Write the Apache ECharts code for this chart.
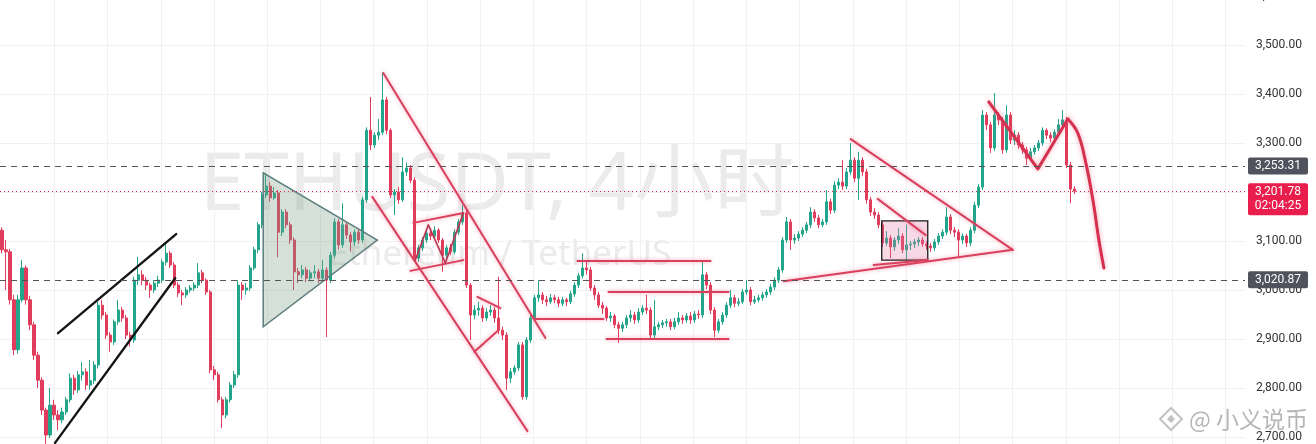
<!DOCTYPE html>
<html><head><meta charset="utf-8">
<script src="https://cdn.jsdelivr.net/npm/echarts@6/dist/echarts.min.js"></script>
<style>html,body{margin:0;padding:0;background:#fff}#c{width:1316px;height:444px}</style>
</head><body><div id="c"></div>
<script>
// ---- data: 4h candles [open, close, low, high] ----
const ohlc = [
[3122,3082,3075,3128],[3082,3078,3000,3102],[3078,2980,2970,3084],[2980,2878,2867,2990],[2878,2980,2870,2990],
[2980,3045,2975,3061],[3045,2980,2970,3050],[2980,2929,2918,2988],[2929,2867,2857,2935],[2867,2816,2800,2874],
[2816,2755,2745,2822],[2755,2704,2686,2760],[2704,2765,2698,2800],[2765,2745,2735,2776],[2745,2735,2714,2755],
[2735,2751,2728,2760],[2751,2776,2745,2782],[2776,2820,2770,2830],[2820,2796,2786,2827],[2796,2827,2790,2835],
[2827,2833,2815,2853],[2833,2806,2796,2840],[2806,2815,2796,2857],[2815,2847,2808,2855],[2847,2969,2840,2976],
[2969,2949,2940,2980],[2949,2908,2900,2955],[2908,2894,2874,2914],[2894,2935,2888,2940],[2935,2959,2929,2980],
[2959,2943,2935,2965],[2943,2908,2900,2949],[2908,2898,2884,2915],[2898,3020,2892,3027],[3020,3031,3010,3067],
[3031,3020,3010,3040],[3020,3010,3000,3027],[3010,3000,2984,3014],[3000,3014,2994,3020],[3014,3020,3006,3029],
[3020,3057,3014,3063],[3057,3075,3050,3096],[3075,3051,3045,3080],[3051,3010,3004,3057],[3010,2994,2986,3016],
[2994,2990,2969,3000],[2990,3000,2984,3006],[3000,3004,2994,3010],[3004,3010,2998,3016],[3010,3035,3004,3055],
[3035,3020,3014,3041],[3020,2996,2990,3024],[2996,2837,2830,3000],[2837,2827,2816,2845],[2827,2776,2770,2833],
[2776,2745,2718,2782],[2745,2776,2738,2782],[2776,2806,2770,2812],[2806,2827,2800,2835],[2827,3010,2820,3020],
[3010,3000,2980,3016],[3000,3004,2990,3014],[3004,3045,2998,3051],[3045,3082,3040,3088],[3082,3133,3075,3139],
[3133,3194,3126,3200],[3194,3212,3188,3239],[3212,3188,3180,3220],[3188,3198,3184,3210],[3198,3118,3067,3204],
[3118,3159,3110,3165],[3159,3133,3126,3165],[3133,3102,3094,3139],[3102,3037,3000,3108],[3037,3031,3014,3045],
[3031,3041,3024,3051],[3041,3024,3016,3047],[3024,3035,3018,3041],[3035,3037,3024,3051],[3037,3024,3014,3043],
[3024,3041,3018,3061],[3041,3020,2904,3047],[3020,3071,3014,3078],[3071,3139,3065,3147],[3139,3092,3082,3145],
[3092,3133,3086,3177],[3133,3112,3104,3139],[3112,3098,3078,3118],[3098,3118,3090,3124],[3118,3102,3094,3124],
[3102,3184,3096,3190],[3184,3326,3178,3332],[3326,3296,3286,3394],[3296,3316,3290,3322],[3316,3322,3306,3349],
[3322,3388,3316,3443],[3388,3326,3318,3394],[3326,3194,3188,3330],[3194,3200,3153,3206],[3200,3184,3176,3210],
[3184,3241,3180,3271],[3241,3249,3233,3260],[3249,3224,3218,3255],[3224,3065,3059,3230],[3065,3086,3057,3092],
[3086,3102,3080,3108],[3102,3116,3096,3124],[3116,3110,3102,3126],[3110,3122,3104,3130],[3122,3102,3096,3126],
[3102,3071,3037,3106],[3071,3086,3065,3092],[3086,3078,3071,3094],[3078,3118,3073,3124],[3118,3139,3112,3145],
[3139,3157,3133,3173],[3157,3010,3004,3163],[3010,2949,2898,3014],[2949,2959,2940,2969],[2959,2963,2947,2976],
[2963,2943,2935,2969],[2943,2955,2937,2963],[2955,2959,2947,2969],[2959,2943,2933,2965],[2943,2918,2910,3027],
[2918,2908,2898,2925],[2908,2820,2796,2914],[2820,2833,2810,2841],[2833,2841,2827,2847],[2841,2888,2835,2894],
[2888,2782,2776,2894],[2782,2898,2776,2904],[2898,2943,2892,2949],[2943,2984,2937,2990],[2984,2990,2976,3020],
[2990,2980,2971,2996],[2980,2976,2967,2988],[2976,2984,2971,2992],[2984,2980,2973,2990],[2980,2973,2965,2986],
[2973,2980,2967,2986],[2980,2976,2967,2984],[2976,2992,2971,2998],[2992,3010,2986,3016],[3010,3029,3004,3035],
[3029,3045,3024,3075],[3045,3041,3031,3061],[3041,3004,2998,3047],[3004,2990,2980,3010],[2990,2969,2963,2996],
[2969,2963,2951,2976],[2963,2943,2937,2967],[2943,2947,2935,2955],[2947,2929,2922,2951],[2929,2922,2892,2935],
[2922,2929,2914,2935],[2929,2943,2922,2949],[2943,2949,2935,2959],[2949,2939,2931,2955],[2939,2955,2933,2963],
[2955,2963,2949,2969],[2963,2959,2951,2990],[2959,2908,2900,2965],[2908,2925,2898,2980],[2925,2929,2918,2935],
[2929,2933,2922,2939],[2933,2935,2925,2941],[2935,2925,2918,2941],[2925,2935,2920,2943],[2935,2943,2929,2955],
[2943,2939,2931,2949],[2939,2947,2933,2953],[2947,2939,2931,2955],[2939,2951,2933,2957],[2951,2949,2941,2959],
[2949,3031,2943,3061],[3031,3010,3002,3037],[3010,2959,2951,3016],[2959,2918,2904,2965],[2918,2935,2912,2941],
[2935,2949,2929,2955],[2949,2969,2943,2975],[2969,2984,2963,3000],[2984,2973,2965,2990],[2973,2976,2967,2984],
[2976,2996,2971,3002],[2996,3000,2990,3020],[3000,2976,2969,3006],[2976,2980,2971,2988],[2980,2984,2975,2990],
[2984,2990,2978,2996],[2990,2996,2984,3002],[2996,3006,2990,3012],[3006,3020,3000,3026],[3020,3041,3014,3047],
[3041,3102,3035,3108],[3102,3139,3096,3149],[3139,3102,3082,3145],[3102,3106,3094,3114],[3106,3114,3100,3120],
[3114,3122,3108,3128],[3122,3133,3116,3139],[3133,3159,3126,3169],[3159,3147,3139,3165],[3147,3133,3126,3153],
[3133,3139,3128,3145],[3139,3180,3133,3204],[3180,3163,3155,3186],[3163,3214,3157,3222],[3214,3220,3206,3228],
[3220,3212,3204,3265],[3212,3241,3206,3249],[3241,3265,3235,3300],[3265,3228,3220,3271],[3228,3265,3184,3282],
[3265,3241,3233,3271],[3241,3184,3176,3247],[3184,3159,3151,3190],[3159,3153,3145,3167],[3153,3133,3126,3159],
[3133,3096,3088,3139],[3096,3106,3090,3120],[3106,3088,3065,3112],[3088,3102,3080,3108],[3102,3110,3094,3126],
[3110,3082,3075,3116],[3082,3092,3061,3133],[3092,3094,3082,3100],[3094,3098,3086,3104],[3098,3102,3090,3108],
[3102,3094,3088,3108],[3094,3090,3082,3100],[3090,3086,3078,3096],[3086,3098,3080,3104],[3098,3110,3092,3116],
[3110,3118,3104,3124],[3118,3149,3112,3169],[3149,3122,3114,3155],[3122,3118,3108,3128],[3118,3102,3067,3124],
[3102,3110,3094,3116],[3110,3096,3088,3114],[3096,3122,3090,3128],[3122,3173,3116,3180],[3173,3210,3167,3216],
[3210,3357,3204,3367],[3357,3337,3326,3363],[3337,3290,3280,3343],[3290,3357,3284,3402],[3357,3347,3337,3363],
[3347,3286,3278,3353],[3286,3357,3280,3377],[3357,3306,3298,3363],[3306,3316,3296,3326],[3316,3296,3288,3322],
[3296,3286,3278,3302],[3286,3269,3255,3292],[3269,3282,3263,3290],[3282,3290,3276,3296],[3290,3300,3284,3306],
[3300,3326,3294,3332],[3326,3316,3308,3330],[3316,3310,3302,3322],[3310,3322,3304,3328],[3322,3337,3316,3349],
[3337,3347,3330,3367],[3347,3255,3249,3353],[3255,3206,3177,3261],[3206,3201.78,3196,3212]
];
const categoryCount = 311;
const categories = Array.from({length: categoryCount}, (_, i) => 'K' + i);
const yTicks = {min: 2600, max: 3700, step: 100};
const priceLines = [
  {value: 3253.31, kind: 'level'},
  {value: 3020.87, kind: 'level'},
  {value: 3201.78, kind: 'last', countdown: '02:04:25'}
];
const timeGrid = [13, 26.3, 39.6, 52.9, 66.2, 79.5, 92.8, 106.1, 119.4, 132.7, 146, 159.3, 172.6, 185.9, 199.2, 212.5, 225.8, 239.1, 252.4, 265.7, 279, 292.3, 305.6];
// drawings in data space: [candle index, price]
const drawings = [
  {kind:'line', style:'black', pts:[[14,2912],[43.5,3114]]},
  {kind:'line', style:'black', pts:[[13.25,2688],[43.25,3024]]},
  {kind:'polygon', style:'tri', pts:[[65.25,3239],[65.25,2925],[93.75,3102]]},
  {kind:'line', style:'red', pts:[[95.25,3443],[135.75,2902]]},
  {kind:'line', style:'red', pts:[[92.5,3190],[131.25,2712]]},
  {kind:'line', style:'red', pts:[[102.75,3137],[115.25,3157]]},
  {kind:'line', style:'red', pts:[[102,3039],[115.25,3061]]},
  {kind:'line', style:'redThin', pts:[[103.25,3061],[106.5,3133],[110.75,3055],[115.25,3157]]},
  {kind:'line', style:'red', pts:[[118.75,2986],[124.5,2963]]},
  {kind:'line', style:'red', pts:[[118,2874],[124,2918]]},
  {kind:'line', style:'red', pts:[[133.25,2941],[150.25,2941]]},
  {kind:'line', style:'red', pts:[[143.75,3059],[177,3059]]},
  {kind:'line', style:'red', pts:[[151.5,2996],[181.5,2996]]},
  {kind:'line', style:'red', pts:[[151,2900],[181.5,2900]]},
  {kind:'line', style:'red', pts:[[212,3308],[252.5,3082]]},
  {kind:'line', style:'red', pts:[[195.25,3018],[252.5,3082]]},
  {kind:'rect', style:'box', pts:[[219.75,3141],[231.25,3061]]},
  {kind:'line', style:'red', pts:[[218.75,3186],[230.75,3112]]},
  {kind:'line', style:'red', pts:[[217.75,3051],[231.25,3061]]},
  {kind:'line', style:'redThick', pts:[[246.5,3384],[258.75,3247],[266.25,3349]]},
  {kind:'line', style:'redThick', smooth:0.4, pts:[[266.25,3349],[268.75,3320],[270.75,3259],[272.5,3184],[274,3102],[275.25,3045]]}
];

const drawStyles = {
  black: {stroke:'#151515', lineWidth:2.4},
  tri: {stroke:'#5e7d7f', lineWidth:1.5, fill:'rgba(120,160,135,0.32)'},
  red: {stroke:'#d9405e', lineWidth:2, shadowBlur:4, shadowColor:'rgba(235,90,120,0.55)'},
  redThin: {stroke:'#b8324f', lineWidth:1.5, shadowBlur:3, shadowColor:'rgba(235,90,120,0.45)'},
  redThick: {stroke:'#d6304f', lineWidth:3, shadowBlur:5, shadowColor:'rgba(235,90,120,0.55)'},
  box: {stroke:'#1a1a1a', lineWidth:1.3, fill:'rgba(225,120,165,0.28)'}
};
const UP = '#23a58c', DOWN = '#e03c5b';
const fmt = v => v.toLocaleString('en-US', {minimumFractionDigits: 2, maximumFractionDigits: 2});

function renderDrawing(params, api) {
  const d = drawings[params.dataIndex];
  const pts = d.pts.map(p => api.coord(p));
  const s = drawStyles[d.style];
  if (d.kind === 'polygon') {
    return {type:'polygon', shape:{points:pts}, style:{fill:s.fill, stroke:s.stroke, lineWidth:s.lineWidth}};
  }
  if (d.kind === 'rect') {
    const a = pts[0], b = pts[1];
    return {type:'rect', shape:{x:Math.min(a[0],b[0]), y:Math.min(a[1],b[1]), width:Math.abs(b[0]-a[0]), height:Math.abs(b[1]-a[1])},
      style:{fill:s.fill, stroke:s.stroke, lineWidth:s.lineWidth}};
  }
  return {type:'polyline', shape:{points:pts, smooth:d.smooth || 0},
    style:{fill:'none', stroke:s.stroke, lineWidth:s.lineWidth, shadowBlur:s.shadowBlur || 0, shadowColor:s.shadowColor || 'rgba(0,0,0,0)', lineCap:'round', lineJoin:'round'}};
}
function renderGrid(params, api) {
  const x = Math.round(api.coord([timeGrid[params.dataIndex], 3000])[0]) + 0.5;
  const cs = params.coordSys;
  return {type:'line', shape:{x1:x, y1:cs.y, x2:x, y2:cs.y + cs.height}, style:{stroke:'#f1f1f1', lineWidth:1}};
}
function renderTag(params, api) {
  const p = priceLines[params.dataIndex];
  const y = api.coord([0, p.value])[1];
  const cs = params.coordSys;
  const x = cs.x + cs.width + 3;
  const font = '12px Roboto, "Noto Sans", sans-serif';
  if (p.kind === 'last') {
    return {type:'group', children:[
      {type:'rect', shape:{x:x, y:y - 8, width:60, height:32, r:2}, style:{fill:'#e91e4c'}},
      {type:'text', style:{x:x + 30, y:y + 0.5, text:fmt(p.value), fill:'#fff', font:font, align:'center', verticalAlign:'middle'}},
      {type:'text', style:{x:x + 30, y:y + 14.5, text:p.countdown, fill:'#fff', font:font, align:'center', verticalAlign:'middle'}}
    ]};
  }
  return {type:'group', children:[
    {type:'rect', shape:{x:x, y:y - 8.5, width:60, height:17, r:2}, style:{fill:'#50535e'}},
    {type:'text', style:{x:x + 30, y:y + 0.5, text:fmt(p.value), fill:'#fff', font:font, align:'center', verticalAlign:'middle'}}
  ]};
}

const chart = echarts.init(document.getElementById('c'), null, {renderer:'canvas'});
chart.setOption({
  animation: false,
  backgroundColor: '#ffffff',
  grid: {left: 0, right: 71, top: -53, bottom: -42, containLabel: false, outerBoundsMode: 'none'},
  xAxis: [
    {type:'category', data:categories, show:false, boundaryGap:true},
    {type:'value', min:-0.5, max:categoryCount - 0.5, show:false}
  ],
  yAxis: {
    type:'value', position:'right', min:yTicks.min, max:yTicks.max, interval:yTicks.step,
    axisLine:{show:false}, axisTick:{show:false},
    axisLabel:{color:'#333', fontSize:12, margin:11, fontFamily:'Roboto, "Noto Sans", sans-serif', formatter: v => fmt(v)},
    splitLine:{lineStyle:{color:'#f1f1f1', width:1}}
  },
  graphic: [
    {type:'text', x:497, y:187, z:-1, silent:true,
      style:{text:'ETHUSDT, 4小时', font:'80px "Noto Sans", "Noto Sans CJK SC", sans-serif', fill:'#ebebeb', align:'center', verticalAlign:'middle'}},
    {type:'text', x:500, y:255, z:-1, silent:true,
      style:{text:'Ethereum / TetherUS', font:'35px "Noto Sans", sans-serif', fill:'#ebebeb', align:'center', verticalAlign:'middle'}},
    {type:'polygon', z:10, silent:true, shape:{points:[[1171,408],[1182,419],[1171,430],[1160,419]]}, style:{fill:'none', stroke:'#c2c2c2', lineWidth:2}},
    {type:'polygon', z:10, silent:true, shape:{points:[[1171,415],[1175,419],[1171,423],[1167,419]]}, style:{fill:'#c2c2c2'}},
    {type:'text', x:1189, y:419, z:10, silent:true,
      style:{text:'@ 小义说币', font:'23px "Noto Sans CJK SC", sans-serif', fill:'#b6b6b6', align:'left', verticalAlign:'middle'}}
  ],
  series: [
    {type:'custom', name:'timeGrid', xAxisIndex:1, z:1, silent:true, renderItem:renderGrid,
      data: timeGrid.map(v => [v, 3000])},
    {type:'candlestick', name:'ETHUSDT', xAxisIndex:0, z:2, barWidth:2.6, silent:true,
      data: ohlc,
      itemStyle:{color:UP, color0:DOWN, borderColor:UP, borderColor0:DOWN, borderWidth:1},
      markLine:{symbol:'none', silent:true, label:{show:false}, animation:false,
        data:[
          {yAxis:priceLines[0].value, lineStyle:{color:'#555', type:[6,5], width:1}},
          {yAxis:priceLines[1].value, lineStyle:{color:'#555', type:[6,5], width:1}},
          {yAxis:priceLines[2].value, lineStyle:{color:'#e0284a', type:[1,3], width:1}}
        ]}
    },
    {type:'custom', name:'drawings', xAxisIndex:1, z:3, silent:true, renderItem:renderDrawing,
      data: drawings.map((d, i) => [i, 3000])},
    {type:'custom', name:'tags', xAxisIndex:1, z:4, silent:true, clip:false, renderItem:renderTag,
      data: priceLines.map(p => [0, p.value])}
  ]
});
</script></body></html>
